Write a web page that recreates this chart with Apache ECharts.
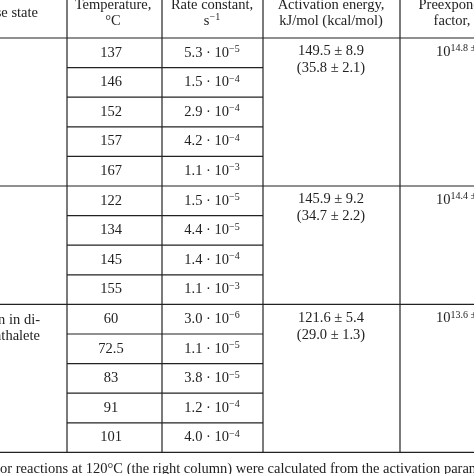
<!DOCTYPE html>
<html><head><meta charset="utf-8">
<script src="https://cdn.jsdelivr.net/npm/echarts@6/dist/echarts.min.js"></script>
<style>html,body{margin:0;background:#fff}#main{width:474px;height:474px}</style>
</head><body><div id="main"></div>
<script>
// table data
var groups = ['Phase state', 'Solution in di-\nbutyl phthalete'];
var temps = [[137, 146, 152, 157, 167], [122, 134, 145, 155], [60, 72.5, 83, 91, 101]];
var rateMant = [['5.3', '1.5', '2.9', '4.2', '1.1'], ['1.5', '4.4', '1.4', '1.1'], ['3.0', '1.1', '3.8', '1.2', '4.0']];
var rateExp = [['5', '4', '4', '4', '3'], ['5', '5', '4', '3'], ['6', '5', '5', '4', '4']];
var energy = ['149.5 ± 8.9', '145.9 ± 9.2', '121.6 ± 5.4'];
var energyKcal = ['(35.8 ± 2.1)', '(34.7 ± 2.2)', '(29.0 ± 1.3)'];
var preExp = ['14.8 ± 1.1', '14.4 ± 1.2', '13.6 ± 0.8'];
var headers = ['Temperature,\n°C', 'Rate constant,\n{b|s}{s|−1}', 'Activation energy,\nkJ/mol (kcal/mol)', 'Preexponential\nfactor, {b|s}{s|−1}'];
var footnote = 'For reactions at 120°C (the right column) were calculated from the activation parameters listed';

var chart = echarts.init(document.getElementById('main'));
var font = '"Liberation Serif", "DejaVu Serif", serif';
var F = '14.5px ' + font;
var rich = {b:{font:F, fill:'#222'}, s:{font:'10px ' + font, fill:'#222', padding:[0,0,7,0]}};
var els = [];
var colX = [67, 162, 263, 400];
var headCx = [113, 212, 331, 462];
function line(x1, y1, x2, y2){
  els.push({type:'line', shape:{x1:x1, y1:y1, x2:x2, y2:y2}, style:{stroke:'#222', lineWidth:1.2}});
}
function txt(x, y, s, align, extra){
  var o = {type:'text', x:x, y:y, style:{text:s, fill:'#222', font:F, align:align || 'center', verticalAlign:'middle', lineHeight:16, rich:rich}};
  if (extra) Object.assign(o.style, extra);
  els.push(o);
}
// header
txt(38, 13, 'Phase state', 'right');
headers.forEach(function(h, i){ txt(headCx[i], 13, h); });
var y = 38, rowH = 29.6;
line(0, y, 474, y);
temps.forEach(function(g, gi){
  var top = y;
  g.forEach(function(t, ri){
    var cy = top + rowH * ri + rowH / 2;
    txt(111, cy, String(t));
    txt(212, cy, '{b|' + rateMant[gi][ri] + ' · 10}{s|−' + rateExp[gi][ri] + '}');
    if (ri < g.length - 1) line(colX[0], top + rowH * (ri + 1), colX[2], top + rowH * (ri + 1));
  });
  txt(331, top + 22, energy[gi] + '\n' + energyKcal[gi], 'center', {lineHeight:17});
  txt(436, top + 14, '{b|10}{s|' + preExp[gi] + '}', 'left');
  y = top + rowH * g.length;
  line(0, y, 474, y);
});
txt(40, 328, groups[1], 'right');
colX.forEach(function(x){ line(x, 0, x, y); });
txt(-8, 469, footnote, 'left');

chart.setOption({animation:false, graphic:{elements:els}});
</script></body></html>
